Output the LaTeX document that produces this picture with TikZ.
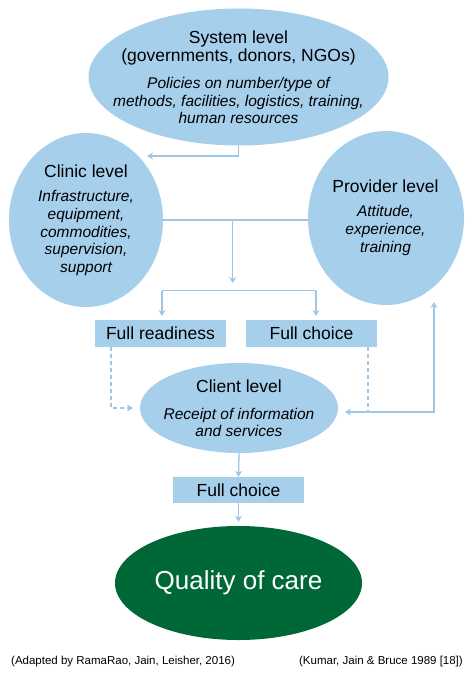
\documentclass[tikz,border=0pt]{standalone}
\usepackage{fontspec}
\setmainfont{Liberation Sans}
\usetikzlibrary{shapes.geometric,arrows.meta}
\definecolor{lblue}{RGB}{166,207,236}
\definecolor{lline}{RGB}{158,198,230}
\definecolor{dgreen}{RGB}{0,104,55}
\tikzset{
  x=1pt,y=-1pt,
  lvl/.style={ellipse,fill=lblue,draw=none,inner sep=0pt},
  ttl/.style={align=center,inner sep=0pt,font=\fontsize{17.5}{18}\selectfont},
  body/.style={align=center,inner sep=0pt,font=\fontsize{15.5}{17.6}\selectfont\itshape},
  boxn/.style={rectangle,fill=lblue,draw=none,minimum width=131pt,minimum height=27pt,inner sep=0pt,font=\fontsize{17.5}{18}\selectfont},
  conn/.style={draw=lline,line width=1.3pt},
  arr/.style={conn,-{Stealth[length=6pt,width=7pt,inset=2pt]}},
  darr/.style={arr,dash pattern=on 4pt off 3pt},
  foot/.style={inner sep=0pt,font=\fontsize{11.5}{13}\selectfont}
}
\begin{document}
\begin{tikzpicture}
\useasboundingbox (0,0) rectangle (474,675);
\fill[white] (0,0) rectangle (474,675);

% System level
\node[lvl,minimum width=300pt,minimum height=137pt] (sys) at (238.5,77) {};
\node[ttl] (systitle) at (238.5,47.5) {System level\\(governments, donors, NGOs)};
\node[body] (sysbody) at (238.5,100.5) {Policies on number/type of\\methods, facilities, logistics, training,\\human resources};

% Clinic level
\node[lvl,minimum width=154pt,minimum height=174pt] (clinic) at (86,220) {};
\node[ttl,anchor=base] (clinictitle) at (86,177) {Clinic level};
\node[body] (clinicbody) at (86,233) {Infrastructure,\\equipment,\\commodities,\\supervision,\\support};

% Provider level
\node[lvl,minimum width=156pt,minimum height=174pt] (prov) at (386,218) {};
\node[ttl,anchor=base] (provtitle) at (385.5,192) {Provider level};
\node[body] (provbody) at (385.5,230.5) {Attitude,\\experience,\\training};

% Boxes
\node[boxn] (ready) at (160.5,333.5) {Full readiness};
\node[boxn] (choice) at (311.5,333.5) {Full choice};

% Client level
\node[lvl,minimum width=198pt,minimum height=90pt] (client) at (239,408) {};
\node[ttl,anchor=base] (clienttitle) at (239,392) {Client level};
\node[body] (clientbody) at (239,422.5) {Receipt of information\\and services};

\node[boxn,minimum height=26pt] (choice2) at (238.5,490) {Full choice};

% Quality of care
\node[ellipse,fill=dgreen,draw=none,minimum width=247pt,minimum height=114pt,inner sep=0pt,
      text=white,font=\fontsize{26}{28}\selectfont] (qoc) at (238.5,583) {Quality of care};

% Footer
\node[foot,anchor=base west] (fl) at (11,664.5) {(Adapted by RamaRao, Jain, Leisher, 2016)};
\node[foot,anchor=base east] (fr) at (463,664.5) {(Kumar, Jain \& Bruce 1989 [18])};

% Connectors
\coordinate (c1) at (147,156);
\draw[arr] (sys.south) |- (c1);

\coordinate (mid) at (232.7,220);
\draw[conn] (clinic.east) -- (clinic.east -| prov.west);
\coordinate (midend) at (232.7,283);
\draw[arr] (mid) -- (midend);

\coordinate (hl) at (162,290.5);
\coordinate (hr) at (316,290.5);
\draw[conn] (hl) -- (hr);
\draw[arr] (hl) -- (162,316);
\draw[arr] (hr) -- (316,316);

\coordinate (dl) at (111,408);
\draw[darr] (ready.south -| dl) -- (dl) -- (133,408);

\coordinate (dr) at (368,411);
\draw[conn,dash pattern=on 4pt off 3pt] (choice.south -| dr) -- (dr);

\coordinate (corner) at (434,412);
\draw[conn,{Stealth[length=6pt,width=7pt,inset=2pt]}-{Stealth[length=6pt,width=7pt,inset=2pt]}]
  (345,412) -- (corner) -- (434,302);

\draw[arr] (client.south) -- (choice2.north);
\draw[arr] (choice2.south) -- ([yshift=4pt]qoc.north);
\end{tikzpicture}
\end{document}
